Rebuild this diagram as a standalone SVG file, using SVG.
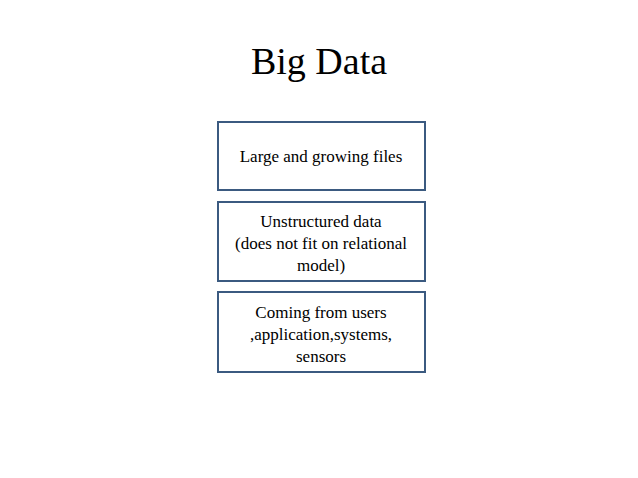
<svg xmlns="http://www.w3.org/2000/svg" width="638" height="478" viewBox="0 0 638 478">
<style>
.box{fill:#fff;stroke:#3b5a80;stroke-width:2}
text{font-family:"Liberation Serif",serif;fill:#000;text-anchor:middle}
.t{font-size:17px}
</style>
<rect width="638" height="478" fill="#fff"/>
<text x="319" y="74" style="font-size:38px">Big Data</text>
<g id="n1"><rect class="box" x="218" y="122" width="207" height="68"/><text class="t" x="321" y="162">Large and growing files</text></g>
<g id="n2"><rect class="box" x="218" y="202" width="207" height="79"/><text class="t" x="321" y="227">Unstructured data</text><text class="t" x="321" y="249">(does not fit on relational</text><text class="t" x="321" y="271">model)</text></g>
<g id="n3"><rect class="box" x="218" y="292" width="207" height="80"/><text class="t" x="321" y="318">Coming from users</text><text class="t" x="321" y="340">,application,systems,</text><text class="t" x="321" y="362">sensors</text></g>
<g id="connectors"/>
</svg>
